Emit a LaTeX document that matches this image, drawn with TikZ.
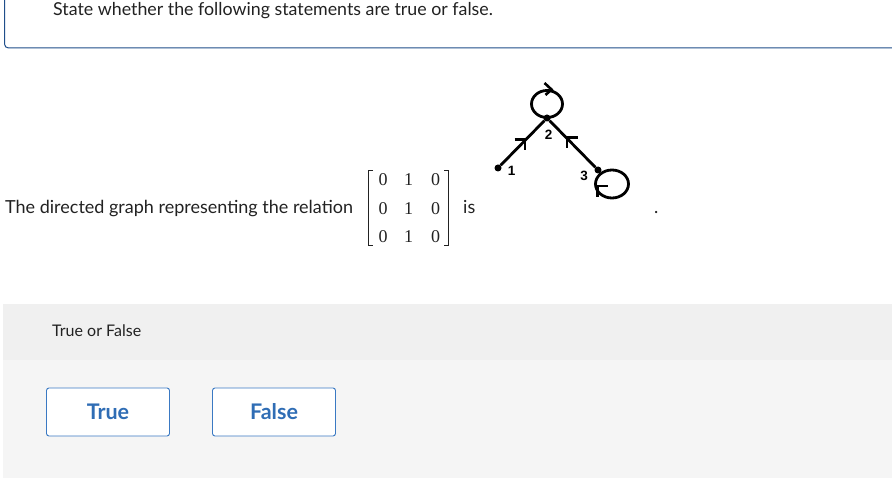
\documentclass[tikz,border=0pt]{standalone}
\usepackage{fontspec}
\setmainfont{Lato}
\newfontfamily\serifdig{Liberation Serif}
\newfontfamily\arialf{Liberation Sans}
\usetikzlibrary{arrows.meta}
\definecolor{navy}{HTML}{1F4E8A}
\definecolor{txt}{HTML}{222222}
\definecolor{btnblue}{HTML}{3A79C3}
\definecolor{btntxt}{HTML}{2F6DB5}
\definecolor{bandA}{HTML}{F0F0F0}
\definecolor{bandB}{HTML}{F5F5F5}
\tikzset{
  plaintext/.style={inner sep=0pt, text=txt},
  vertex/.style={circle, fill=black, inner sep=0pt, minimum size=7pt},
  vlabel/.style={inner sep=0pt, font=\arialf\bfseries\fontsize{13.5}{13.5}\selectfont},
  gedge/.style={line width=2.8pt},
  barb/.style={line width=2.6pt},
  loopline/.style={line width=2.8pt},
  digit/.style={inner sep=0pt, font=\serifdig\fontsize{18}{18}\selectfont, text=txt},
  answer/.style={draw=btnblue, fill=white, line width=0.9pt, rounded corners=2.5pt,
    minimum width=123pt, minimum height=48pt, inner sep=0pt,
    font=\bfseries\fontsize{21.5}{21.5}\selectfont, text=btntxt},
}
\begin{document}
\begin{tikzpicture}[x=1pt,y=-1pt]
\useasboundingbox (0,0) rectangle (892,478);
\fill[white] (0,0) rectangle (892,478);
% top box
\draw[navy, line width=1pt, rounded corners=4pt] (4.5,-5) -- (4.5,48) -- (897,48);
\node[plaintext, anchor=base west, font=\fontsize{17.8}{18}\selectfont] (head) at (53,16)
  {State whether the following statements are true or false.};
% statement
\node[plaintext, anchor=base west, font=\fontsize{18}{18}\selectfont] (stmt) at (5,214)
  {The directed graph representing the relation};
% matrix
\foreach \r/\y in {1/180,2/208.5,3/237}{
  \foreach \c/\x/\v in {1/383/0,2/408.5/1,3/435.5/0}{
    \node[digit, anchor=center] (m\r\c) at (\x,\y) {\v};
  }
}
\draw[line width=1.2pt, txt] (373,170.5) -- (368.5,170.5) -- (368.5,245.5) -- (373,245.5);
\draw[line width=1.2pt, txt] (444,170.5) -- (448.5,170.5) -- (448.5,245.5) -- (444,245.5);
\node[plaintext, anchor=base west, font=\fontsize{18}{18}\selectfont] (is) at (463,214) {is};
\node[plaintext, anchor=base west, font=\fontsize{18}{18}\selectfont] (dot) at (654,214) {.};
% graph
\node[vertex] (v1) at (498,168) {};
\node[vertex] (v2) at (547,118) {};
\node[vertex] (v3) at (598,170) {};
\node[vlabel] (l1) at (511.5,171) {1};
\node[vlabel] (l2) at (548.5,134.5) {2};
\node[vlabel] (l3) at (584,176) {3};
\draw[gedge] (v1) -- (v2);
\draw[gedge] (v3) -- (v2);
% arrow marks on edges
\draw[barb] (514.5,139.5) -- (525,139.5) -- (525,150);
\draw[barb] (577.5,137.5) -- (567,137.5) -- (567,148);
% loop at 2
\draw[loopline] (547,104) ellipse [x radius=15.5, y radius=13.5];
\draw[barb] (544.5,83) -- (551.5,89.5) -- (545.5,95);
% loop at 3
\draw[loopline] (612,184) ellipse [x radius=16.5, y radius=14];
\draw[barb] (607.5,186) -- (597.5,186) -- (597.5,197);
% answer area
\fill[bandA] (3,304) rectangle (892,360);
\fill[bandB] (3,360) rectangle (892,478);
\node[plaintext, anchor=base west, font=\fontsize{16}{16}\selectfont] (tf) at (52,336.5) {True or False};
\node[answer] (btrue) at (108,412) {True};
\node[answer] (bfalse) at (274,412) {False};
\end{tikzpicture}
\end{document}
